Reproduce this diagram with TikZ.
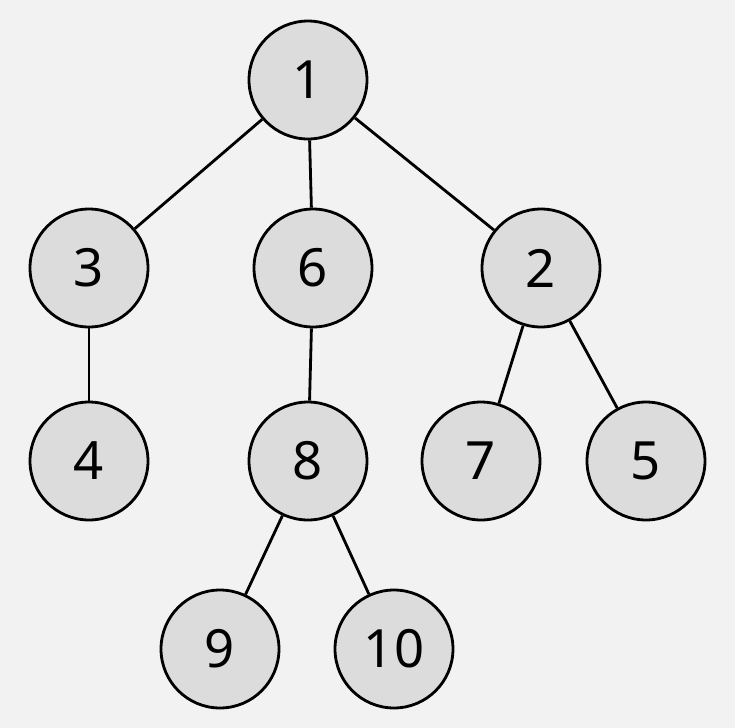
\documentclass[tikz,border=0pt]{standalone}
\usepackage{fontspec}
\setmainfont{Noto Sans}
\usepackage{tikz}
\definecolor{bgcol}{HTML}{F2F2F2}
\definecolor{nodecol}{HTML}{DCDCDC}
\tikzset{
	vert/.style={circle,draw,fill=nodecol,line width=1.6pt,minimum size=2.36cm,inner sep=0pt,font=\fontsize{30}{30}\selectfont\bfseries},
	edge/.style={line width=1.6pt}
}
\begin{document}
\begin{tikzpicture}[x=0.02cm,y=-0.02cm]
	\fill[bgcol] (0,0) rectangle (735,728);
	\useasboundingbox (0,0) rectangle (735,728);
	\node[vert] (n1) at (308,80) {1};
	\node[vert] (n3) at (89,268) {3};
	\node[vert] (n6) at (313,268) {6};
	\node[vert] (n2) at (541,268) {2};
	\node[vert] (n4) at (89,461) {4};
	\node[vert] (n8) at (308,461) {8};
	\node[vert] (n7) at (481,461) {7};
	\node[vert] (n5) at (646,461) {5};
	\node[vert] (n9) at (220,649) {9};
	\node[vert] (n10) at (394,649) {10};
	\foreach \a/\b in {n1/n3,n1/n6,n1/n2,n3/n4,n6/n8,n2/n7,n2/n5,n8/n9,n8/n10}{
		\draw[edge] (\a) -- (\b);
	}
\end{tikzpicture}
\end{document}
